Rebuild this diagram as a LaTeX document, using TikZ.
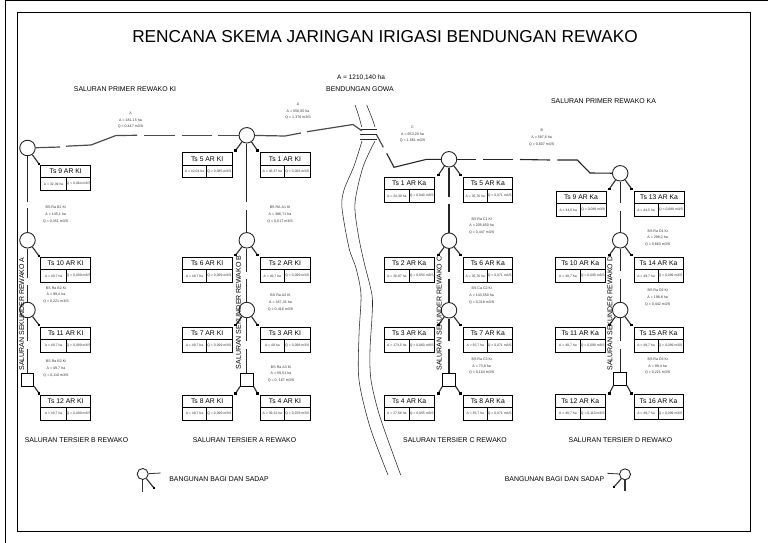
\documentclass[tikz,border=0pt]{standalone}
\usepackage{fontspec}
\setmainfont{Liberation Sans}
\newcommand{\fs}[1]{\fontsize{#1}{#1}\selectfont}
\tikzset{
  base/.style={x=1pt,y=-1pt},
  frameline/.style={draw=black,line width=1pt},
  main/.style={draw=black!85,line width=1.1pt},
  prim/.style={draw=black!70,line width=1.2pt},
  bank/.style={draw=black!85,line width=0.55pt},
  dambar/.style={draw=black!85,line width=1pt},
  cellbox/.style={draw=black,line width=1pt},
  junction/.style={circle,draw=black!85,line width=0.9pt,minimum size=15.5pt,inner sep=0pt},
  gatebox/.style={rectangle,draw=black,line width=0.9pt,minimum size=12.6pt,inner sep=0pt},
  stubline/.style={draw=black!80,line width=1.15pt},
  tip/.style={rectangle,fill=black,minimum size=2.6pt,inner sep=0pt},
  tstitle/.style={inner sep=0pt,font=\fs{6.8}},
  tscell/.style={inner sep=0pt,font=\fs{3.4},text=black!80},
  lab/.style={inner sep=0pt,font=\fs{6.9},text=black},
  smalllab/.style={inner sep=0pt,font=\fs{3.6},text=black!80},
  sideLab/.style={inner sep=0pt,rotate=90,font=\fs{7},text=black},
}
% id, x0, xdiv, x1, y0, title, A, Q
\newcommand{\tsbox}[8]{%
  \pgfmathsetmacro{\ysp}{#5+12.3}\pgfmathsetmacro{\yend}{#5+25}%
  \draw[cellbox] (#2,#5) rectangle (#4,\yend);
  \draw[cellbox] (#2,\ysp) -- (#4,\ysp) (#3,\ysp) -- (#3,\yend);
  \node[tstitle] (#1t) at ({(#2+#4)/2},{#5+6.2}) {#6};
  \node[tscell] (#1a) at ({(#2+#3)/2},{#5+18.7}) {A = #7 ha};
  \node[tscell] (#1q) at ({(#3+#4)/2},{#5+18.7}) {Q = #8 m3/S};
}
% three-line label
\newcommand{\info}[6]{%
  \node[smalllab] (#1a) at (#2,#3) {#4};
  \node[smalllab] (#1b) at (#2,{#3+6.6}) {#5};
  \node[smalllab] (#1c) at (#2,{#3+13.4}) {#6};
}
% stub from node with a square tip
\newcommand{\stub}[4]{%
  \coordinate (#1) at (#3,#4);
  \draw[stubline] (#2) -- (#1);
  \node[tip] at (#1) {};
}
% vertical connector with a gap
\newcommand{\vgap}[4]{%
  \draw[main] (#1) -- (#1 |- 0,#3);
  \draw[main] (#1 |- 0,#4) -- (#2);
}
\begin{document}
\begin{tikzpicture}[base]
\useasboundingbox (0,0) rectangle (768,543);
% frame
\draw[frameline] (5.5,543) -- (5.5,0.6) -- (768,0.6);
\draw[frameline] (17.5,12.5) rectangle (750,531);
% headings
\node[inner sep=0pt,font=\fs{17.25},text=black] (title) at (385,37) {RENCANA SKEMA JARINGAN IRIGASI BENDUNGAN REWAKO};
\node[lab] (hki) at (125,89) {SALURAN PRIMER REWAKO KI};
\node[lab] (hka) at (603.5,101) {SALURAN PRIMER REWAKO KA};
\node[lab,font=\fs{6.5}] (da) at (361,78) {A = 1210,140 ha};
\node[lab] (db) at (360,89) {BENDUNGAN GOWA};
% river
\draw[bank] (355,105) .. controls (358,113) and (360,120) .. (361.7,127);
\draw[bank] (366.7,105) .. controls (370,113) and (373,120) .. (375,127);
\draw[bank,smooth] plot coordinates {(362,141) (354,166) (344,190) (342,208) (349,248) (356,268) (361,295) (359,335) (359,380) (370,427) (388,475)};
\draw[bank,smooth] plot coordinates {(375,141) (363,167) (355,203) (358,233) (364,262) (372,295) (372,317) (370,350) (371,380) (380,417) (400.7,475)};
\draw[dambar] (360,129.3) -- (377,129.3);
\draw[dambar] (360,134) -- (377,134);
\draw[dambar] (360,139) -- (377,139);
% junctions group A (left)
\node[junction] (a1) at (27.5,148) {};
\node[junction] (a2) at (27.5,240.3) {};
\node[junction] (a3) at (27.5,310) {};
\node[gatebox] (a4) at (27.5,379.7) {};
% group B
\node[junction] (b1) at (246.8,135.3) {};
\node[junction] (b2) at (246.8,240.3) {};
\node[junction] (b3) at (246.8,310) {};
\node[gatebox] (b4) at (246.8,379.7) {};
% group C
\node[junction] (c1) at (449,159.3) {};
\node[junction] (c2) at (449,240.7) {};
\node[junction] (c3) at (449,310.3) {};
\node[gatebox] (c4) at (449,379.7) {};
% group D
\node[junction] (d1) at (620.2,173.3) {};
\node[junction] (d2) at (620.2,240.3) {};
\node[junction] (d3) at (620.2,310) {};
\node[gatebox] (d4) at (620.2,378.8) {};
% vertical connectors
\vgap{a1}{a2}{201.7}{208}
\vgap{a2}{a3}{278}{285}
\vgap{a3}{a4}{340.5}{349}
\vgap{b1}{b2}{201.7}{210}
\vgap{b2}{b3}{271.7}{279}
\vgap{b3}{b4}{340.7}{349}
\vgap{c1}{c2}{196.7}{204}
\vgap{c2}{c3}{271.5}{279}
\vgap{c3}{c4}{341}{349}
\vgap{d1}{d2}{203}{210.7}
\vgap{d2}{d3}{271}{279}
\vgap{d3}{d4}{341}{349}
% primary lines
\coordinate (p1) at (60,147);
\coordinate (p2) at (66,146.2);
\coordinate (p3) at (91,145);
\coordinate (p4) at (116,135.5);
\coordinate (p5) at (137,135.3);
\coordinate (p6) at (144,135.3);
\coordinate (p7) at (174.5,135.3);
\coordinate (p8) at (181.7,135.3);
\coordinate (p9) at (211.7,135.3);
\coordinate (p10) at (218.3,135.3);
\draw[prim] (a1) -- (p1);
\draw[prim] (p2) -- (p3) -- (p4) -- (p5);
\draw[prim] (p6) -- (p7);
\draw[prim] (p8) -- (p9);
\draw[prim] (p10) -- (b1);
\coordinate (q1) at (285,136);
\coordinate (q2) at (301,133);
\coordinate (q3) at (307,131.7);
\coordinate (q4) at (353,124.5);
\coordinate (q5) at (361.7,130.7);
\coordinate (q6) at (376.7,135);
\coordinate (q7) at (383.3,147.3);
\coordinate (q8) at (386.7,153.3);
\coordinate (q9) at (394,167.3);
\coordinate (q10) at (426.7,159.3);
\draw[prim] (b1) -- (q1) -- (q2);
\draw[prim] (q3) -- (q4) -- (q5);
\draw[prim] (q6) -- (q7);
\draw[main] (q8) -- (q9) -- (q10) -- (c1);
\coordinate (r1) at (476,159.3);
\coordinate (r2) at (483.3,159.3);
\coordinate (r3) at (513.3,159.3);
\coordinate (r4) at (520,159.5);
\coordinate (r5) at (550,160);
\coordinate (r6) at (557.3,160);
\coordinate (r7) at (577.3,160);
\coordinate (r8) at (590,173);
\draw[main] (c1) -- (r1);
\draw[main] (r2) -- (r3);
\draw[main] (r4) -- (r5);
\draw[main] (r6) -- (r7) -- (r8) -- (d1);
% stubs
\stub{sa1}{a1}{39}{164}
\stub{sa2}{a2}{39}{256}
\stub{sa3}{a3}{39}{325}
\stub{sa4}{a4.south east}{39}{393.3}
\stub{sb1l}{b1}{235.5}{150.5}
\stub{sb1r}{b1}{257.5}{150.5}
\stub{sb2l}{b2}{235.7}{255}
\stub{sb2r}{b2}{257.5}{255}
\stub{sb3l}{b3}{235.7}{325}
\stub{sb3r}{b3}{257.5}{325}
\stub{sb4l}{b4.south west}{235.7}{393.3}
\stub{sb4r}{b4.south east}{257.5}{393.3}
\stub{sc1l}{c1}{438.3}{175}
\stub{sc1r}{c1}{460.7}{175}
\stub{sc2l}{c2}{438.3}{255}
\stub{sc2r}{c2}{460.7}{255}
\stub{sc3l}{c3}{438.3}{325}
\stub{sc3r}{c3}{460.2}{325}
\stub{sc4l}{c4.south west}{438.3}{393.3}
\stub{sc4r}{c4.south east}{460.2}{393.3}
\stub{sd1l}{d1}{609.3}{189}
\stub{sd1r}{d1}{631.7}{189}
\stub{sd2l}{d2}{609.3}{255}
\stub{sd2r}{d2}{631.2}{255}
\stub{sd3l}{d3}{609.3}{325}
\stub{sd3r}{d3}{631.2}{325}
\stub{sd4l}{d4.south west}{609.3}{393.3}
\stub{sd4r}{d4.south east}{631.2}{393.3}
% boxes left group
\tsbox{t9}{40.7}{66.5}{90.7}{165.3}{Ts 9 AR KI}{32,39}{0,064}
\tsbox{t10}{40.7}{66.5}{90.7}{257.3}{Ts 10 AR KI}{49,7}{0,099}
\tsbox{t11}{40.7}{66.5}{90.7}{327}{Ts 11 AR KI}{49,7}{0,099}
\tsbox{t12}{40.7}{66.5}{90.7}{395}{Ts 12 AR KI}{49,7}{0,099}
% group B
\tsbox{t5}{182.3}{206.7}{232}{152.7}{Ts 5 AR KI}{42,04}{0,085}
\tsbox{t1}{260}{284.7}{310}{152.7}{Ts 1 AR KI}{46,37}{0,093}
\tsbox{t6}{182.3}{206.7}{232}{257.3}{Ts 6 AR KI}{49,7}{0,099}
\tsbox{t2}{260}{284.7}{310}{257.3}{Ts 2 AR KI}{49,7}{0,099}
\tsbox{t7}{182.3}{206.7}{232}{327}{Ts 7 AR KI}{49,7}{0,099}
\tsbox{t3}{260}{284.7}{310}{327}{Ts 3 AR KI}{49}{0,098}
\tsbox{t8}{182.3}{206.7}{232}{395}{Ts 8 AR KI}{49,7}{0,099}
\tsbox{t4}{260}{284.7}{310}{395}{Ts 4 AR KI}{39,31}{0,078}
% group C
\tsbox{u1}{384.3}{409.5}{434}{177.3}{Ts 1 AR Ka}{24,39}{0,040}
\tsbox{u5}{463.3}{487.3}{512.3}{177.3}{Ts 5 AR Ka}{35,76}{0,071}
\tsbox{u2}{384.3}{409.5}{434}{257.3}{Ts 2 AR Ka}{26,87}{0,054}
\tsbox{u6}{463.3}{487.3}{512.3}{257.3}{Ts 6 AR Ka}{35,76}{0,071}
\tsbox{u3}{384.3}{409.5}{434}{327}{Ts 3 AR Ka}{173,5}{0,060}
\tsbox{u7}{463.3}{487.3}{512.3}{327}{Ts 7 AR Ka}{35,7}{0,071}
\tsbox{u4}{384.3}{409.5}{434}{395}{Ts 4 AR Ka}{27,68}{0,055}
\tsbox{u8}{463.3}{487.3}{512.3}{395}{Ts 8 AR Ka}{35,7}{0,071}
% group D
\tsbox{u9}{556}{580.5}{606}{191.3}{Ts 9 AR Ka}{44,5}{0,089}
\tsbox{u13}{634}{658}{684}{191.3}{Ts 13 AR Ka}{44,5}{0,089}
\tsbox{u10}{555.3}{580.5}{605}{257.3}{Ts 10 AR Ka}{49,7}{0,099}
\tsbox{u14}{634}{658}{683}{257.3}{Ts 14 AR Ka}{49,7}{0,099}
\tsbox{u11}{555.3}{580.5}{605}{327}{Ts 11 AR Ka}{49,7}{0,099}
\tsbox{u15}{634}{658}{683}{327}{Ts 15 AR Ka}{49,7}{0,099}
\tsbox{u12}{555.3}{580.5}{605}{394.7}{Ts 12 AR Ka}{49,7}{0,110}
\tsbox{u16}{634}{658}{683}{394.7}{Ts 16 AR Ka}{49,7}{0,099}
% flow labels
\info{la}{130.5}{113.5}{A}{A = 181,15 ha}{Q = 0,447 m3/S}
\info{lb}{298}{104.5}{A}{A = 556,65 ha}{Q = 1,376 m3/S}
\info{lc}{412.5}{127.5}{C}{A = 653,20 ha}{Q = 1,561 m3/S}
\info{ld}{541.7}{130.7}{B}{A = 587,6 ha}{Q = 0,607 m3/S}
\info{le}{55.7}{207.7}{BS Ra B1 Ki}{A = 145,1 ha}{Q = 0,351 m3/S}
\info{lf}{56}{288}{BS Ra B2 Ki}{A = 99,4 ha}{Q = 0,221 m3/S}
\info{lg}{56}{361.7}{BS Ra B2 Ki}{A = 49,7 ha}{Q = 0,110 m3/S}
\info{lh}{280}{207.7}{BS RA A1 Ki}{A = 386,71 ha}{Q = 0,617 m3/S}
\info{li}{280.5}{295.7}{BS Ra A2 Ki}{A = 187,31 ha}{Q = 0,416 m3/S}
\info{lj}{281}{367.3}{BS Ra A3 Ki}{A = 59,51 ha}{Q = 0, 167 m3/S}
\info{lk}{481.7}{219}{BS Ra C1 Ki}{A = 205,650 ha}{Q = 0,447 m3/S}
\info{ll}{481.7}{288.7}{BS Ca C2 Ki}{A = 143,550 ha}{Q = 0,318 m3/S}
\info{lm}{481.7}{359.5}{BS Ra C3 Ki}{A = 73,8 ha}{Q = 0,164 m3/S}
\info{ln}{657.7}{231}{BS Ra D1 Ki}{A = 298,2 ha}{Q = 0,663 m3/S}
\info{lo}{657.7}{290.7}{BS Ra D2 Ki}{A = 198,8 ha}{Q = 0,442 m3/S}
\info{lp}{657.7}{359.5}{BS Ra D3 Ki}{A = 99,4 ha}{Q = 0,221 m3/S}
% sideways labels
\node[sideLab] (sa) at (21.7,314) {SALURAN SEKUNDER REWAKO A};
\node[sideLab] (sb) at (238.5,312.5) {SALURAN SEKUNDER REWAKO B};
\node[sideLab] (sc) at (439.3,313.5) {SALURAN SEKUNDER REWAKO C};
\node[sideLab] (sd) at (610,313.5) {SALURAN SEKUNDER REWAKO D};
% bottom labels
\node[lab] (ba) at (76.5,440) {SALURAN TERSIER B REWAKO};
\node[lab] (bb) at (244.5,440) {SALURAN TERSIER A REWAKO};
\node[lab] (bc) at (455,440) {SALURAN TERSIER C REWAKO};
\node[lab] (bd) at (620.5,440) {SALURAN TERSIER D REWAKO};
% legends
\node[junction,minimum size=11pt] (g1) at (142.7,474) {};
\coordinate (g1r) at (160.7,473);
\coordinate (g1b) at (142.7,491.7);
\draw[stubline,line width=0.8pt] (g1) -- (g1r);
\draw[stubline] (g1) -- (g1b);
\stub{g1d}{g1}{154}{488}
\node[lab] (g1t) at (219,479) {BANGUNAN BAGI DAN SADAP};
\node[junction,minimum size=11pt] (g2) at (625,474.3) {};
\coordinate (g2l) at (607.3,473.3);
\coordinate (g2b) at (625,491);
\draw[stubline,line width=0.8pt] (g2) -- (g2l);
\draw[stubline] (g2) -- (g2b);
\stub{g2d}{g2}{614}{487}
\node[lab] (g2t) at (554.5,478.7) {BANGUNAN BAGI DAN SADAP};
\end{tikzpicture}
\end{document}
